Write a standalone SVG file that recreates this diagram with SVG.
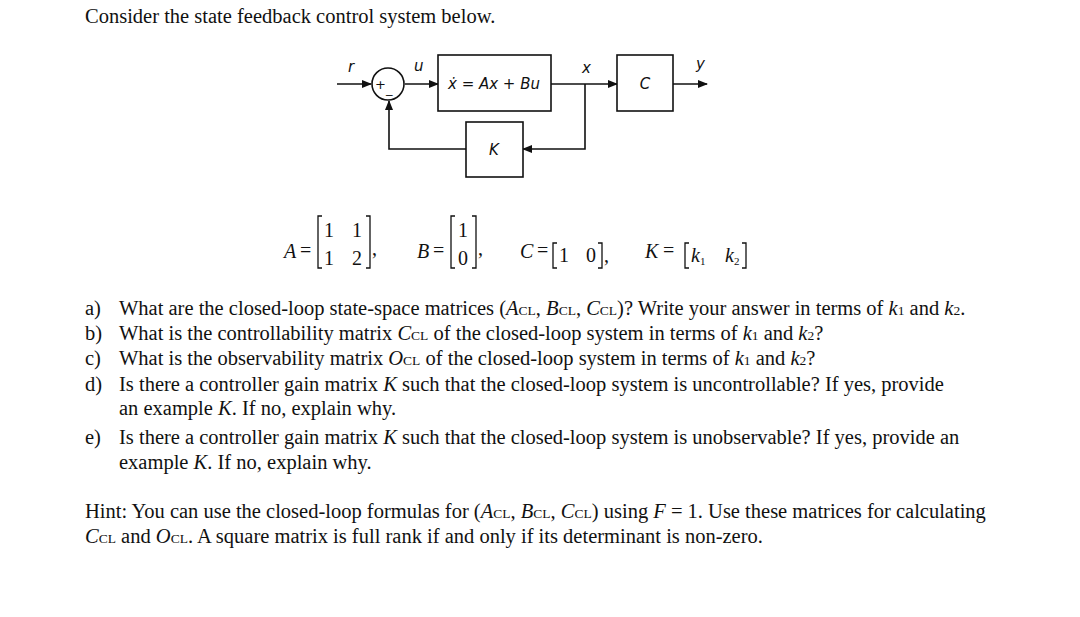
<svg xmlns="http://www.w3.org/2000/svg" width="1080" height="617" viewBox="0 0 1080 617">
<style>
.t{font-family:"Liberation Serif",serif;font-size:20.5px;fill:#111}
.s{font-size:13.5px}
.l{font-family:"DejaVu Sans",sans-serif;font-size:15px;font-style:italic;fill:#111}
.m{font-family:"Liberation Serif",serif;font-size:20px;fill:#111}
.box{fill:#fff;stroke:#111;stroke-width:1.6}
.ln{fill:none;stroke:#111;stroke-width:1.6}
.br{fill:none;stroke:#111;stroke-width:1.3}
</style>
<defs><marker id="a" markerWidth="10" markerHeight="8" refX="9" refY="4" orient="auto" markerUnits="userSpaceOnUse"><path d="M0,0L10,4L0,8z" fill="#111"/></marker></defs>
<rect width="1080" height="617" fill="#fff"/>
<text class="t" x="85" y="23">Consider the state feedback control system below.</text>
<g id="connectors">
<path class="ln" d="M337,84H371" marker-end="url(#a)"/>
<path class="ln" d="M405,84H438" marker-end="url(#a)"/>
<path class="ln" d="M551,84H617" marker-end="url(#a)"/>
<path class="ln" d="M673,84H707" marker-end="url(#a)"/>
<path class="ln" d="M585,84V149H523" marker-end="url(#a)"/>
<path class="ln" d="M466,149H389V101" marker-end="url(#a)"/>
</g>
<g id="sum"><circle class="box" cx="388" cy="84" r="16"/><text class="l" x="375" y="89" style="font-style:normal;font-size:13px">+</text><text class="l" x="386" y="93" style="font-style:normal;font-size:13px">_</text></g>
<g id="plant"><rect class="box" x="438" y="55" width="113" height="56"/><text class="l" x="494" y="89" text-anchor="middle">ẋ = Ax + Bu</text></g>
<g id="C"><rect class="box" x="617" y="55" width="56" height="56"/><text class="l" x="645" y="89" text-anchor="middle">C</text></g>
<g id="K"><rect class="box" x="466" y="122" width="57" height="55"/><text class="l" x="494" y="155" text-anchor="middle">K</text></g>
<text class="l" x="348" y="72">r</text><text class="l" x="414" y="71">u</text><text class="l" x="582" y="73">x</text><text class="l" x="696" y="69">y</text>
<g id="matrices">
<text class="m" x="284" y="258" font-style="italic">A</text><text class="m" x="300" y="257">=</text>
<path class="br" d="M322,216h-4v52h4M366,216h4v52h-4"/>
<text class="m" x="324" y="237">1</text><text class="m" x="352" y="237">1</text>
<text class="m" x="324" y="265">1</text><text class="m" x="352" y="265">2</text>
<text class="m" x="372" y="255">,</text>
<text class="m" x="417" y="258" font-style="italic">B</text><text class="m" x="433" y="257">=</text>
<path class="br" d="M455,216h-4v52h4M472,216h4v52h-4"/>
<text class="m" x="458" y="237">1</text><text class="m" x="458" y="265">0</text>
<text class="m" x="478" y="255">,</text>
<text class="m" x="520" y="258" font-style="italic">C</text><text class="m" x="537" y="257">=</text>
<path class="br" d="M557,243h-4v25h4M598,243h4v25h-4"/>
<text class="m" x="559" y="262">1</text><text class="m" x="586" y="262">0</text><text class="m" x="604" y="262">,</text>
<text class="m" x="645" y="258" font-style="italic">K</text><text class="m" x="663" y="257">=</text>
<path class="br" d="M689,243h-4v25h4M742,243h4v25h-4"/>
<text class="m" x="691" y="262" font-style="italic">k<tspan font-size="11" font-style="normal" dy="3">1</tspan></text>
<text class="m" x="725" y="262" font-style="italic">k<tspan font-size="11" font-style="normal" dy="3">2</tspan></text>
</g>
<g id="questions" class="t">
<text x="85" y="315">a)</text><text x="119" y="315">What are the closed-loop state-space matrices (<tspan font-style="italic">A</tspan><tspan class="s">CL</tspan>, <tspan font-style="italic">B</tspan><tspan class="s">CL</tspan>, <tspan font-style="italic">C</tspan><tspan class="s">CL</tspan>)? Write your answer in terms of <tspan font-style="italic">k</tspan><tspan class="s">1</tspan> and <tspan font-style="italic">k</tspan><tspan class="s">2</tspan>.</text>
<text x="85" y="340">b)</text><text x="119" y="340">What is the controllability matrix <tspan font-style="italic">C</tspan><tspan class="s">CL</tspan> of the closed-loop system in terms of <tspan font-style="italic">k</tspan><tspan class="s">1</tspan> and <tspan font-style="italic">k</tspan><tspan class="s">2</tspan>?</text>
<text x="85" y="365">c)</text><text x="119" y="365">What is the observability matrix <tspan font-style="italic">O</tspan><tspan class="s">CL</tspan> of the closed-loop system in terms of <tspan font-style="italic">k</tspan><tspan class="s">1</tspan> and <tspan font-style="italic">k</tspan><tspan class="s">2</tspan>?</text>
<text x="85" y="391">d)</text><text x="119" y="391">Is there a controller gain matrix <tspan font-style="italic">K</tspan> such that the closed-loop system is uncontrollable? If yes, provide</text>
<text x="119" y="415">an example <tspan font-style="italic">K</tspan>. If no, explain why.</text>
<text x="85" y="444">e)</text><text x="119" y="444">Is there a controller gain matrix <tspan font-style="italic">K</tspan> such that the closed-loop system is unobservable? If yes, provide an</text>
<text x="119" y="469">example <tspan font-style="italic">K</tspan>. If no, explain why.</text>
<text x="85" y="518">Hint: You can use the closed-loop formulas for (<tspan font-style="italic">A</tspan><tspan class="s">CL</tspan>, <tspan font-style="italic">B</tspan><tspan class="s">CL</tspan>, <tspan font-style="italic">C</tspan><tspan class="s">CL</tspan>) using <tspan font-style="italic">F</tspan> = 1. Use these matrices for calculating</text>
<text x="85" y="543"><tspan font-style="italic">C</tspan><tspan class="s">CL</tspan> and <tspan font-style="italic">O</tspan><tspan class="s">CL</tspan>. A square matrix is full rank if and only if its determinant is non-zero.</text>
</g>
</svg>
